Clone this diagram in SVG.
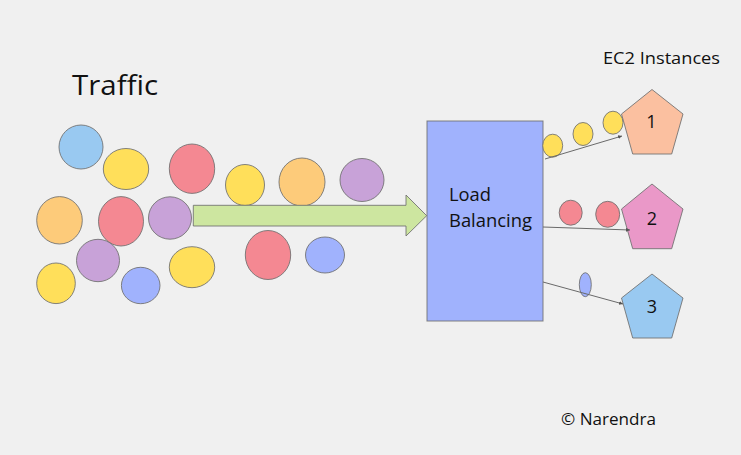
<svg xmlns="http://www.w3.org/2000/svg" width="741" height="455" viewBox="0 0 741 455">
<style>
.s{stroke:#6f6f6f;stroke-width:1;stroke-opacity:.85}
.blue{fill:#99c9f1}.yellow{fill:#ffdf5a}.red{fill:#f48892}.purple{fill:#c8a2d8}.orange{fill:#fdcb7a}.peri{fill:#a0b2fd}
.t{font-family:"Open Sans","Liberation Sans",sans-serif;fill:#111}
.c{stroke:#6a6a6a;stroke-width:1;fill:none;marker-end:url(#a)}
</style>
<defs><marker id="a" markerWidth="5" markerHeight="5" refX="4" refY="2" orient="auto" markerUnits="userSpaceOnUse"><path d="M0 0L4 2L0 4Z" fill="#555"/></marker></defs>
<rect width="741" height="455" fill="#f0f0f0"/>
<g id="traffic-label"><text class="t" x="72" y="95" font-size="27" textLength="86" lengthAdjust="spacingAndGlyphs">Traffic</text></g>
<g id="ec2-label"><text class="t" x="603" y="64" font-size="16" textLength="117" lengthAdjust="spacingAndGlyphs">EC2 Instances</text></g>
<g id="packets-left">
<ellipse class="s blue" cx="81" cy="147" rx="22" ry="22"/>
<ellipse class="s yellow" cx="126" cy="169" rx="22.7" ry="20.5"/>
<ellipse class="s red" cx="192" cy="168.7" rx="22.7" ry="24.7"/>
<ellipse class="s orange" cx="59.5" cy="220.3" rx="22.8" ry="23.7"/>
<ellipse class="s red" cx="121" cy="221.3" rx="22.5" ry="24.7"/>
<ellipse class="s purple" cx="170" cy="218" rx="21.5" ry="21.2"/>
<ellipse class="s purple" cx="98" cy="260.5" rx="21.5" ry="21.2"/>
<ellipse class="s yellow" cx="56" cy="283.3" rx="19.3" ry="20.3"/>
<ellipse class="s peri" cx="140.7" cy="285.5" rx="19.3" ry="18.2"/>
<ellipse class="s yellow" cx="192" cy="267.2" rx="22.7" ry="20.5"/>
</g>
<g id="packets-middle">
<ellipse class="s yellow" cx="245" cy="185" rx="19.5" ry="20.5"/>
<ellipse class="s orange" cx="302" cy="182" rx="23" ry="24"/>
<ellipse class="s purple" cx="362" cy="180" rx="22" ry="21.5"/>
<ellipse class="s red" cx="268" cy="255" rx="22.7" ry="24.5"/>
<ellipse class="s peri" cx="325" cy="255" rx="19.5" ry="18"/>
</g>
<g id="flow-arrow"><path class="s" fill="#cde6a0" d="M193.300 205.300H406V195L426.700 215.700L406 236V226H193.300Z"/></g>
<g id="load-balancer">
<rect class="s peri" x="427" y="121" width="116" height="200"/>
<text class="t" x="449" y="201" font-size="18" textLength="42" lengthAdjust="spacingAndGlyphs">Load</text>
<text class="t" x="449" y="227" font-size="18" textLength="83" lengthAdjust="spacingAndGlyphs">Balancing</text>
</g>
<g id="packets-right">
<ellipse class="s yellow" cx="552.700" cy="145.700" rx="10" ry="11.500"/>
<ellipse class="s yellow" cx="583" cy="134" rx="10" ry="11.500"/>
<ellipse class="s yellow" cx="613" cy="122.700" rx="10" ry="11.500"/>
<ellipse class="s red" cx="570.700" cy="212.700" rx="11.500" ry="12.500"/>
<ellipse class="s red" cx="607.700" cy="214.300" rx="12" ry="13"/>
<ellipse class="s peri" cx="585.300" cy="284.700" rx="6" ry="12"/>
</g>
<g id="instance-1">
<polygon class="s" fill="#fbc0a0" points="652,89.500 683,114 671.700,154 632.700,154 621.500,114"/>
<text class="t" x="651.500" y="128" font-size="18" text-anchor="middle">1</text>
</g>
<g id="instance-2">
<polygon class="s" fill="#ea98c8" points="652,184 683,209 671.700,248.700 632.700,248.700 621.500,209"/>
<text class="t" x="652" y="225" font-size="18" text-anchor="middle">2</text>
</g>
<g id="instance-3">
<polygon class="s" fill="#99c9f1" points="652,274 683,298 671.700,338 632.700,338 621.500,298"/>
<text class="t" x="652" y="313" font-size="18" text-anchor="middle">3</text>
</g>
<g id="connectors">
<path class="c" d="M545 159L622 136"/>
<path class="c" d="M543 227L630 230"/>
<path class="c" d="M543 282L623 304"/>
</g>
<g id="credit"><text class="t" x="561" y="425" font-size="16" textLength="95" lengthAdjust="spacingAndGlyphs">© Narendra</text></g>
</svg>
